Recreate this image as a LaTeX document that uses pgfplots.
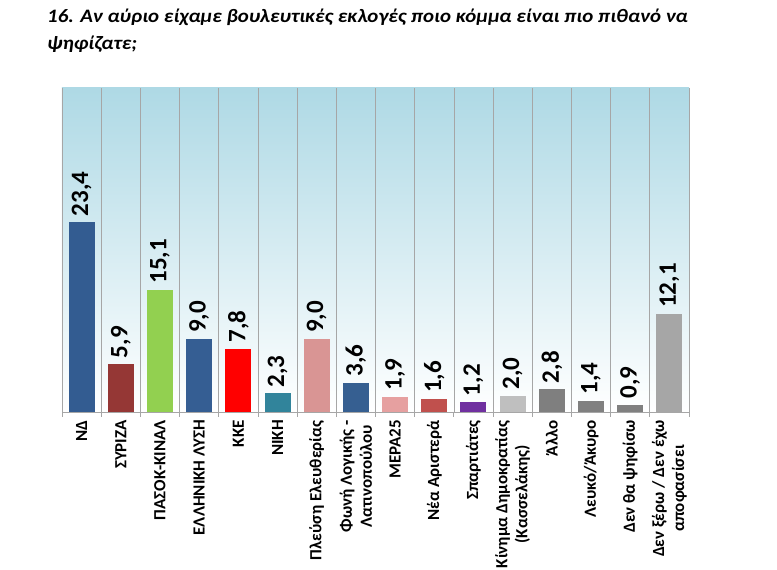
\documentclass[border=0pt]{standalone}
\usepackage{pgfplots}
\pgfplotsset{compat=1.18}
\usepackage{fontspec}
\setmainfont{Carlito}
\definecolor{cND}{HTML}{335C91}
\definecolor{cSY}{HTML}{953735}
\definecolor{cPA}{HTML}{92D050}
\definecolor{cEL}{HTML}{355E93}
\definecolor{cKK}{HTML}{FF0000}
\definecolor{cNI}{HTML}{31849B}
\definecolor{cPL}{HTML}{D99594}
\definecolor{cFL}{HTML}{365F91}
\definecolor{cME}{HTML}{E6A0A0}
\definecolor{cNA}{HTML}{C0504D}
\definecolor{cSP}{HTML}{7030A0}
\definecolor{cKD}{HTML}{BFBFBF}
\definecolor{cAL}{HTML}{7F7F7F}
\definecolor{cLE}{HTML}{808080}
\definecolor{cDT}{HTML}{808080}
\definecolor{cDX}{HTML}{A6A6A6}
\definecolor{bgtop}{HTML}{AED9E5}
\begin{document}
\begin{tikzpicture}
\begin{axis}[
  name=ax,
  at={(0,0)}, anchor=south west,
  scale only axis,
  width=627pt, height=324pt,
  xmin=-0.5, xmax=15.5, ymin=0, ymax=40,
  axis y line=none,
  axis x line*=bottom,
  x axis line style={draw=gray!70, line width=0.8pt},
  axis background/.style={top color=bgtop, bottom color=white},
  xtick={0,...,15},
  major tick length=0pt,
  minor xtick={-0.5,0.5,...,15.5},
  minor tick length=5pt,
  tick align=outside,
  minor x tick style={draw=gray!70, line width=0.8pt},
  xminorgrids=true,
  minor grid style={draw=gray!70, line width=0.7pt},
  xticklabels={
    ΝΔ,
    ΣΥΡΙΖΑ,
    ΠΑΣΟΚ-ΚΙΝΑΛ,
    ΕΛΛΗΝΙΚΗ ΛΥΣΗ,
    ΚΚΕ,
    ΝΙΚΗ,
    Πλεύση Ελευθερίας,
    {Φωνή Λογικής -\\Λατινοπούλου},
    ΜΕΡΑ25,
    Νέα Αριστερά,
    Σπαρτιάτες,
    {Κίνημα Δημοκρατίας\\(Κασσελάκης)},
    Άλλο,
    Λευκό/Άκυρο,
    Δεν θα ψηφίσω,
    {Δεν ξέρω / Δεν έχω\\αποφασίσει}},
  xticklabel style={rotate=90, anchor=east, align=center, font=\fontsize{17}{20}\selectfont\bfseries, inner sep=2pt},
  every tick label/.append style={yshift=-6pt},
  ybar, bar width=26pt, bar shift=0pt,
  nodes near coords,
  nodes near coords style={rotate=90, anchor=west, font=\fontsize{25}{25}\selectfont\bfseries, inner sep=6pt,
    /pgf/number format/.cd, fixed, fixed zerofill, precision=1, use comma, assume math mode=true},
  clip=false,
]
\addplot[draw=none, fill=cND] coordinates {(0,23.4)};
\addplot[draw=none, fill=cSY] coordinates {(1,5.9)};
\addplot[draw=none, fill=cPA] coordinates {(2,15.1)};
\addplot[draw=none, fill=cEL] coordinates {(3,9.0)};
\addplot[draw=none, fill=cKK] coordinates {(4,7.8)};
\addplot[draw=none, fill=cNI] coordinates {(5,2.3)};
\addplot[draw=none, fill=cPL] coordinates {(6,9.0)};
\addplot[draw=none, fill=cFL] coordinates {(7,3.6)};
\addplot[draw=none, fill=cME] coordinates {(8,1.9)};
\addplot[draw=none, fill=cNA] coordinates {(9,1.6)};
\addplot[draw=none, fill=cSP] coordinates {(10,1.2)};
\addplot[draw=none, fill=cKD] coordinates {(11,2.0)};
\addplot[draw=none, fill=cAL] coordinates {(12,2.8)};
\addplot[draw=none, fill=cLE] coordinates {(13,1.4)};
\addplot[draw=none, fill=cDT] coordinates {(14,0.9)};
\addplot[draw=none, fill=cDX] coordinates {(15,12.1)};
\end{axis}
\node[anchor=base west, font=\fontsize{19}{19}\selectfont\bfseries\itshape, inner sep=0pt, xscale=1.1, transform shape]
  at ([xshift=-15pt, yshift=389pt]ax.south west)
  {16. Αν αύριο είχαμε βουλευτικές εκλογές ποιο κόμμα είναι πιο πιθανό να};
\node[anchor=base west, font=\fontsize{19}{19}\selectfont\bfseries\itshape, inner sep=0pt, xscale=1.1, transform shape]
  at ([xshift=-15pt, yshift=362pt]ax.south west)
  {ψηφίζατε;};
\useasboundingbox ([xshift=-62pt, yshift=-155pt]ax.south west) rectangle ([xshift=715pt, yshift=412pt]ax.south west);
\end{tikzpicture}
\end{document}
